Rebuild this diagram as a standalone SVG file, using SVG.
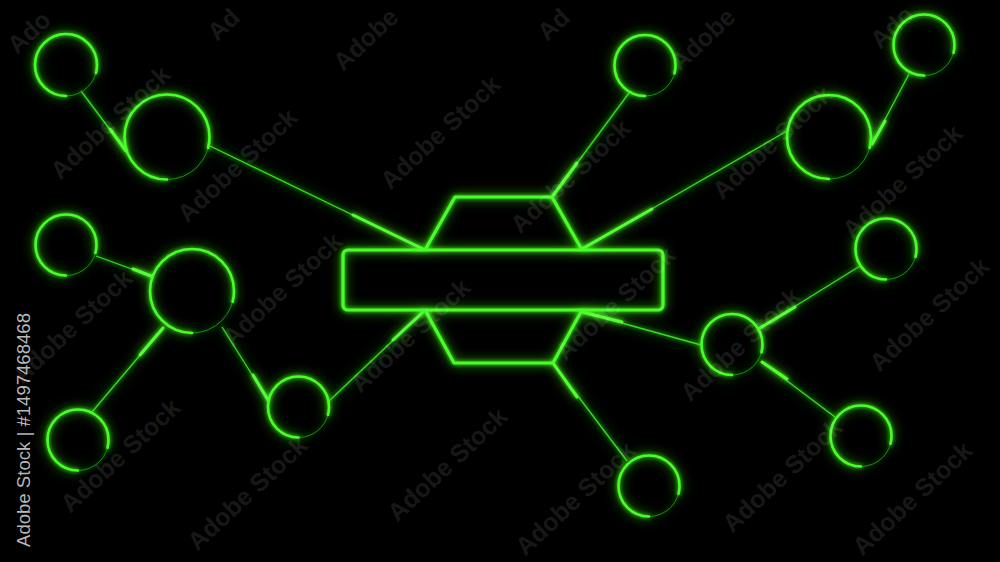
<svg xmlns="http://www.w3.org/2000/svg" width="1000" height="562" viewBox="0 0 1000 562">
<defs>
<style>
.bg{fill:#000}
.ring-dim{fill:none;stroke:#1f8a14;stroke-width:1}
.ring{fill:none;stroke:#47ff26;stroke-width:2.6;stroke-dasharray:285 75;stroke-dashoffset:270;stroke-linecap:round}
.thin{stroke:#35dc1c;stroke-width:1.3;fill:none}
.hot{stroke:#52ff30;stroke-width:3;stroke-linecap:round;fill:none}
.hub{fill:none;stroke:#47ff26;stroke-width:3.2;stroke-linejoin:round}
.wm{font-family:"Liberation Sans",Arial,sans-serif;font-weight:bold;font-size:25px;fill:#ffffff;fill-opacity:0.11;text-anchor:middle}
.wf{font-family:"Liberation Sans",Arial,sans-serif;font-weight:bold;font-size:25px;fill:#ffffff;fill-opacity:0.11;text-anchor:start}
.id{font-family:"Liberation Sans",Arial,sans-serif;font-size:19px;fill:#b8b8b8}
</style>
<filter id="glow" filterUnits="userSpaceOnUse" x="0" y="0" width="1000" height="562">
<feGaussianBlur in="SourceGraphic" stdDeviation="2" result="b1"/>
<feGaussianBlur in="SourceGraphic" stdDeviation="6" result="b2"/>
<feMerge><feMergeNode in="b2"/><feMergeNode in="b1"/><feMergeNode in="SourceGraphic"/></feMerge>
</filter>
</defs>
<rect class="bg" x="0" y="0" width="1000" height="562"/>
<g id="neon" filter="url(#glow)">
<g id="connectors">
<line class="thin" x1="81" y1="91" x2="126" y2="151"/><line class="hot" x1="110" y1="129" x2="126" y2="151"/>
<line class="thin" x1="210" y1="146" x2="423" y2="249"/><line class="hot" x1="353" y1="215" x2="423" y2="249"/>
<line class="thin" x1="629" y1="93" x2="552" y2="197"/><line class="hot" x1="577" y1="163" x2="552" y2="197"/>
<line class="thin" x1="787" y1="131" x2="582" y2="249"/><line class="hot" x1="652" y1="209" x2="582" y2="249"/>
<line class="thin" x1="909" y1="74" x2="872" y2="144"/><line class="hot" x1="885" y1="121" x2="872" y2="144"/>
<line class="thin" x1="96" y1="256" x2="151" y2="276"/><line class="hot" x1="133" y1="269" x2="151" y2="276"/>
<line class="thin" x1="163" y1="328" x2="92" y2="412"/><line class="hot" x1="163" y1="328" x2="140" y2="355"/>
<line class="thin" x1="222" y1="327" x2="268" y2="400"/><line class="hot" x1="253" y1="375" x2="268" y2="400"/>
<line class="thin" x1="328" y1="402" x2="423" y2="312"/><line class="hot" x1="393" y1="340" x2="423" y2="312"/>
<line class="thin" x1="582" y1="312" x2="701" y2="345"/><line class="hot" x1="582" y1="312" x2="622" y2="322"/>
<line class="thin" x1="760" y1="328" x2="860" y2="266"/><line class="hot" x1="760" y1="328" x2="795" y2="307"/>
<line class="thin" x1="762" y1="362" x2="835" y2="417"/><line class="hot" x1="762" y1="362" x2="787" y2="379"/>
<line class="thin" x1="553" y1="363" x2="627" y2="461"/><line class="hot" x1="553" y1="363" x2="577" y2="397"/>
</g>
<g id="hub">
<polyline class="hub" points="425,250 455,197 552,197 582,250"/>
<polyline class="hub" points="425,310 454,363 553,363 582,310"/>
<rect class="hub" x="343" y="250" width="320" height="60" rx="5"/>
</g>
<g id="node-1"><circle class="ring-dim" cx="66" cy="65" r="31"/><circle class="ring" cx="66" cy="65" r="31" pathLength="360"/></g>
<g id="node-2"><circle class="ring-dim" cx="167" cy="137" r="42.5"/><circle class="ring" cx="167" cy="137" r="42.5" pathLength="360"/></g>
<g id="node-3"><circle class="ring-dim" cx="66" cy="245" r="30.5"/><circle class="ring" cx="66" cy="245" r="30.5" pathLength="360"/></g>
<g id="node-4"><circle class="ring-dim" cx="192" cy="291" r="42"/><circle class="ring" cx="192" cy="291" r="42" pathLength="360"/></g>
<g id="node-5"><circle class="ring-dim" cx="78" cy="440" r="30.5"/><circle class="ring" cx="78" cy="440" r="30.5" pathLength="360"/></g>
<g id="node-6"><circle class="ring-dim" cx="298.5" cy="407" r="30.5"/><circle class="ring" cx="298.5" cy="407" r="30.5" pathLength="360"/></g>
<g id="node-7"><circle class="ring-dim" cx="645" cy="65.5" r="30.5"/><circle class="ring" cx="645" cy="65.5" r="30.5" pathLength="360"/></g>
<g id="node-8"><circle class="ring-dim" cx="829" cy="137" r="42"/><circle class="ring" cx="829" cy="137" r="42" pathLength="360"/></g>
<g id="node-9"><circle class="ring-dim" cx="924" cy="45" r="30.5"/><circle class="ring" cx="924" cy="45" r="30.5" pathLength="360"/></g>
<g id="node-10"><circle class="ring-dim" cx="886" cy="249" r="30.5"/><circle class="ring" cx="886" cy="249" r="30.5" pathLength="360"/></g>
<g id="node-11"><circle class="ring-dim" cx="732" cy="344.5" r="30.5"/><circle class="ring" cx="732" cy="344.5" r="30.5" pathLength="360"/></g>
<g id="node-12"><circle class="ring-dim" cx="861" cy="436" r="30.5"/><circle class="ring" cx="861" cy="436" r="30.5" pathLength="360"/></g>
<g id="node-13"><circle class="ring-dim" cx="649" cy="486" r="30.5"/><circle class="ring" cx="649" cy="486" r="30.5" pathLength="360"/></g>
</g>
<g id="watermarks">
<text class="wf" transform="translate(17,55) rotate(-43)">Ado</text>
<text class="wf" transform="translate(217,42) rotate(-43)">Ad</text>
<text class="wf" transform="translate(343,72) rotate(-43)">Adobe</text>
<text class="wf" transform="translate(547,42) rotate(-43)">Ad</text>
<text class="wf" transform="translate(680,72) rotate(-43)">Adobe</text>
<text class="wf" transform="translate(880,50) rotate(-43)">Ado</text>
<text class="wm" transform="translate(110,122) rotate(-43)" y="9">Adobe Stock</text>
<text class="wm" transform="translate(237,165) rotate(-43)" y="9">Adobe Stock</text>
<text class="wm" transform="translate(440,132) rotate(-43)" y="9">Adobe Stock</text>
<text class="wm" transform="translate(570,176) rotate(-43)" y="9">Adobe Stock</text>
<text class="wm" transform="translate(772,142) rotate(-43)" y="9">Adobe Stock</text>
<text class="wm" transform="translate(902,181) rotate(-43)" y="9">Adobe Stock</text>
<text class="wm" transform="translate(72,326) rotate(-43)" y="9">Adobe Stock</text>
<text class="wm" transform="translate(282,289) rotate(-43)" y="9">Adobe Stock</text>
<text class="wm" transform="translate(410,335) rotate(-43)" y="9">Adobe Stock</text>
<text class="wm" transform="translate(615,303) rotate(-43)" y="9">Adobe Stock</text>
<text class="wm" transform="translate(740,344) rotate(-43)" y="9">Adobe Stock</text>
<text class="wm" transform="translate(929,314) rotate(-43)" y="9">Adobe Stock</text>
<text class="wm" transform="translate(120,455) rotate(-43)" y="9">Adobe Stock</text>
<text class="wm" transform="translate(247,493) rotate(-43)" y="9">Adobe Stock</text>
<text class="wm" transform="translate(447,464) rotate(-43)" y="9">Adobe Stock</text>
<text class="wm" transform="translate(575,498) rotate(-43)" y="9">Adobe Stock</text>
<text class="wm" transform="translate(782,475) rotate(-43)" y="9">Adobe Stock</text>
<text class="wm" transform="translate(912,498) rotate(-43)" y="9">Adobe Stock</text>
</g>
<text class="id" transform="translate(30,547) rotate(-90)" textLength="234" lengthAdjust="spacingAndGlyphs">Adobe Stock | #1497468468</text>
</svg>
